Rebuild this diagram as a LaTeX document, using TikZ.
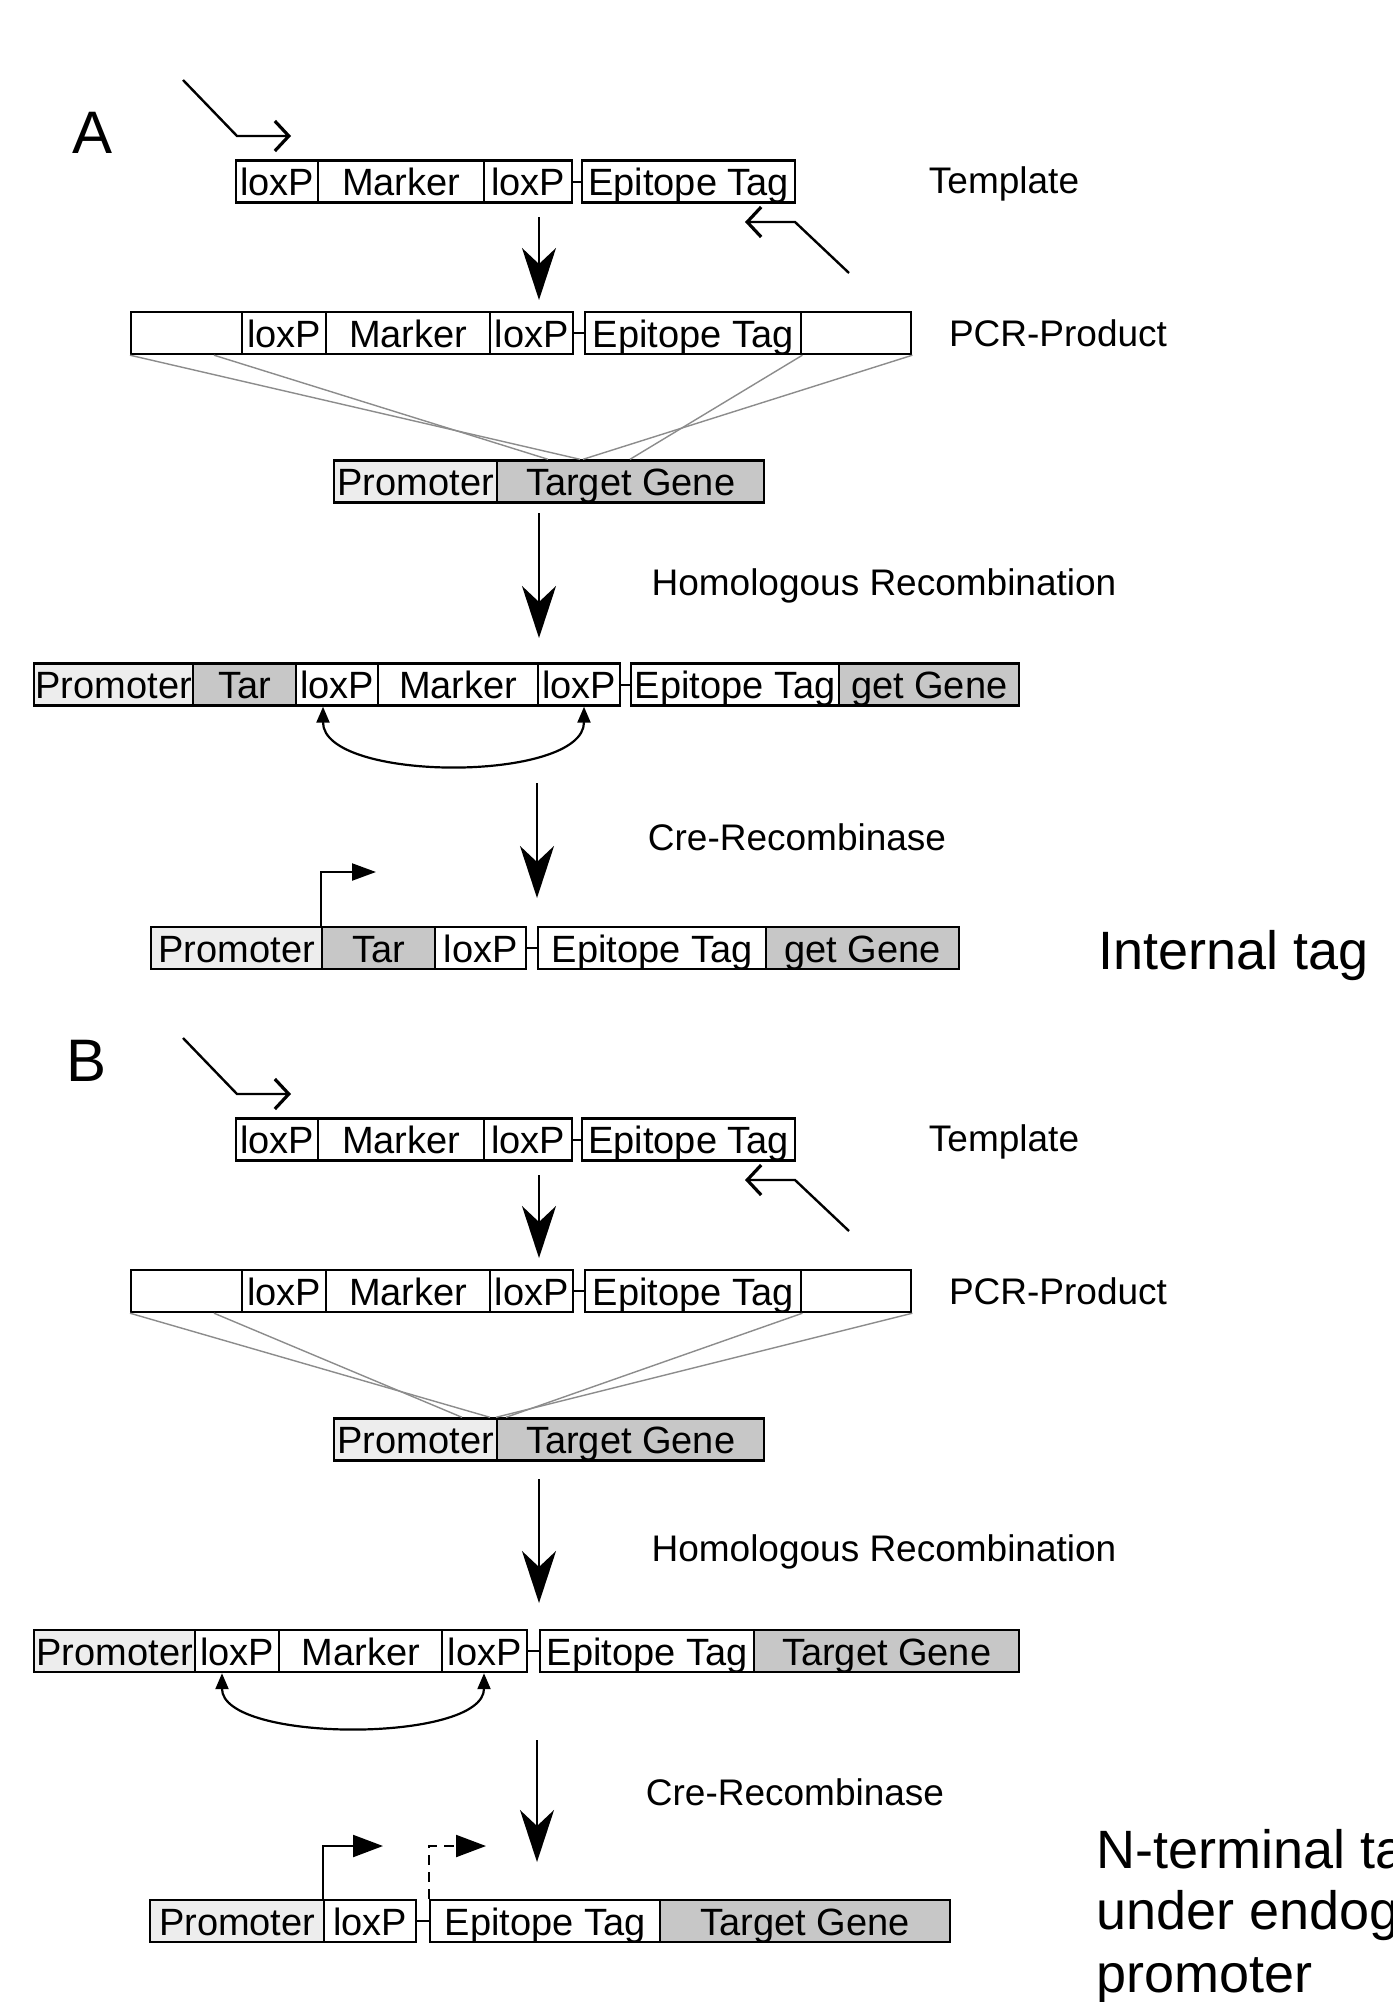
\documentclass[tikz,border=0pt]{standalone}
\usepackage{fontspec}
\setmainfont{Liberation Sans}
\usetikzlibrary{arrows.meta,calc}
\definecolor{promfill}{gray}{0.93}
\definecolor{genefill}{gray}{0.78}
\definecolor{homgray}{gray}{0.55}
\newcommand\bxfont{\fontsize{38}{44}\selectfont}
\newcommand\lbfont{\fontsize{37}{44}\selectfont}
\newcommand\bigtxtfont{\fontsize{54}{62}\selectfont}
\newcommand\letfont{\fontsize{60}{70}\selectfont}
\begin{document}
\begin{tikzpicture}[x=1pt,y=-1pt,
  seg/.style={draw=black, line width=2.4pt, inner sep=0pt, text height=28pt, text depth=0pt,
              anchor=west, font=\bxfont, fill=white, minimum height=42pt},
  prom/.style={seg, fill=promfill},
  gene/.style={seg, fill=genefill},
  link/.style={line width=2pt},
  homline/.style={draw=homgray, line width=1.4pt},
  lbl/.style={font=\lbfont, inner sep=0pt, text height=27pt, text depth=0pt},
  bigarrow/.style={line width=2.4pt, -{Stealth[length=52pt,width=34pt,inset=16pt]}},
  primer/.style={line width=2.4pt, -{Straight Barb[length=14pt,width=30pt,line width=3.2pt]}},
  loop/.style={line width=2.2pt, {Triangle[length=16pt,width=13pt]}-{Triangle[length=16pt,width=13pt]}},
  tss/.style={line width=2.2pt, -{Triangle[length=30pt,width=22pt]}},
]
\useasboundingbox (0,0) rectangle (1392,2002);
\fill[white] (0,0) rectangle (1392,2002);
\clip (0,0) rectangle (1392,2002);

% ================= Panel A =================
\node[font=\letfont, inner sep=0pt, text height=43pt, text depth=0pt] (labA) at (93,132) {A};

% Template
\node[seg,minimum width=82]  (a11) at (235,181.5) {loxP};
\node[seg,minimum width=166] (a12) at (317,181.5) {Marker};
\node[seg,minimum width=88]  (a13) at (483,181.5) {loxP};
\node[seg,minimum width=213] (a14) at (581,181.5) {Epitope Tag};
\draw[link] (a13.east) -- (a14.west);
\node[lbl] (tmplA) at (1004,180) {Template};

% primers
\coordinate (pA1s) at (183,80);
\coordinate (pA1c) at (237,136);
\coordinate (pA1e) at (291,136);
\draw[primer] (pA1s) -- (pA1c) -- (pA1e);
\coordinate (pA2s) at (849,273);
\coordinate (pA2c) at (795,222);
\coordinate (pA2e) at (745,222);
\draw[primer] (pA2s) -- (pA2c) -- (pA2e);

% arrow template -> PCR
\coordinate (dA1s) at (539,217);
\coordinate (dA1e) at (539,300);
\draw[bigarrow] (dA1s) -- (dA1e);

% PCR product
\node[seg,minimum width=111] (a21) at (130,333) {};
\node[seg,minimum width=84]  (a22) at (241,333) {loxP};
\node[seg,minimum width=164] (a23) at (325,333) {Marker};
\node[seg,minimum width=83]  (a24) at (489,333) {loxP};
\node[seg,minimum width=216] (a25) at (584,333) {Epitope Tag};
\node[seg,minimum width=110] (a26) at (800,333) {};
\draw[link] (a24.east) -- (a25.west);
\node[lbl] (pcrA) at (1058,333) {PCR-Product};

% Promoter / Target gene
\node[prom,minimum width=163] (a31) at (333,481.5) {Promoter};
\node[gene,minimum width=267] (a32) at (496,481.5) {Target Gene};

% homology lines
\draw[homline] (a21.south west) -- ([xshift=84pt]a32.north west);
\draw[homline] ([xshift=84pt]a21.south west) -- ([xshift=52pt]a32.north west);
\draw[homline] (a25.south east) -- ([xshift=134pt]a32.north west);
\draw[homline] (a26.south east) -- ([xshift=87pt]a32.north west);

% homologous recombination arrow
\coordinate (dA2s) at (539,513);
\coordinate (dA2e) at (539,638);
\draw[bigarrow] (dA2s) -- (dA2e);
\node[lbl] (homA) at (884,582) {Homologous Recombination};

% recombined locus
\node[prom,minimum width=159] (a41) at (33,684.5) {Promoter};
\node[gene,minimum width=103] (a42) at (192,684.5) {Tar};
\node[seg,minimum width=82]   (a43) at (295,684.5) {loxP};
\node[seg,minimum width=160]  (a44) at (377,684.5) {Marker};
\node[seg,minimum width=82]   (a45) at (537,684.5) {loxP};
\node[seg,minimum width=208]  (a46) at (630,684.5) {Epitope Tag};
\node[gene,minimum width=180] (a47) at (838,684.5) {get Gene};
\draw[link] (a45.east) -- (a46.west);
\draw[loop] ([xshift=28pt]a43.south west) .. controls ([xshift=28pt,yshift=-76pt]a43.south west)
      and ([xshift=47pt,yshift=-76pt]a45.south west) .. ([xshift=47pt]a45.south west);

% Cre arrow
\coordinate (dA3s) at (537,783);
\coordinate (dA3e) at (537,898);
\draw[bigarrow] (dA3s) -- (dA3e);
\node[lbl] (creA) at (797,837) {Cre-Recombinase};

% final internal tag
\node[prom,minimum width=171] (a51) at (150,948) {Promoter};
\node[gene,minimum width=113] (a52) at (321,948) {Tar};
\node[seg,minimum width=91]   (a53) at (434,948) {loxP};
\node[seg,minimum width=228]  (a54) at (537,948) {Epitope Tag};
\node[gene,minimum width=193] (a55) at (765,948) {get Gene};
\draw[link] (a53.east) -- (a54.west);
\coordinate (tsA) at (376,872);
\draw[line width=2.2pt, -{Triangle[length=24pt,width=17pt]}] (a52.north west) |- (tsA);
\node[font=\bigtxtfont, inner sep=0pt, text height=38pt, text depth=0pt, anchor=west] (intA) at (1098,950) {Internal tag};

% ================= Panel B =================
\node[font=\letfont, inner sep=0pt, text height=43pt, text depth=0pt] (labB) at (87,1060) {B};

\node[seg,minimum width=82]  (b11) at (235,1139.5) {loxP};
\node[seg,minimum width=166] (b12) at (317,1139.5) {Marker};
\node[seg,minimum width=88]  (b13) at (483,1139.5) {loxP};
\node[seg,minimum width=213] (b14) at (581,1139.5) {Epitope Tag};
\draw[link] (b13.east) -- (b14.west);
\node[lbl] (tmplB) at (1004,1138) {Template};

\coordinate (pB1s) at (183,1038);
\coordinate (pB1c) at (237,1094);
\coordinate (pB1e) at (291,1094);
\draw[primer] (pB1s) -- (pB1c) -- (pB1e);
\coordinate (pB2s) at (849,1231);
\coordinate (pB2c) at (795,1180);
\coordinate (pB2e) at (745,1180);
\draw[primer] (pB2s) -- (pB2c) -- (pB2e);

\coordinate (dB1s) at (539,1175);
\coordinate (dB1e) at (539,1258);
\draw[bigarrow] (dB1s) -- (dB1e);

\node[seg,minimum width=111] (b21) at (130,1291) {};
\node[seg,minimum width=84]  (b22) at (241,1291) {loxP};
\node[seg,minimum width=164] (b23) at (325,1291) {Marker};
\node[seg,minimum width=83]  (b24) at (489,1291) {loxP};
\node[seg,minimum width=216] (b25) at (584,1291) {Epitope Tag};
\node[seg,minimum width=110] (b26) at (800,1291) {};
\draw[link] (b24.east) -- (b25.west);
\node[lbl] (pcrB) at (1058,1291) {PCR-Product};

\node[prom,minimum width=163] (b31) at (333,1439.5) {Promoter};
\node[gene,minimum width=267] (b32) at (496,1439.5) {Target Gene};

\draw[homline] (b21.south west) -- ([xshift=-6pt]b32.north west);
\draw[homline] ([xshift=84pt]b21.south west) -- ([xshift=-34pt]b32.north west);
\draw[homline] (b25.south east) -- ([xshift=10pt]b32.north west);
\draw[homline] (b26.south east) -- ([xshift=0pt]b32.north west);

\coordinate (dB2s) at (539,1479);
\coordinate (dB2e) at (539,1603);
\draw[bigarrow] (dB2s) -- (dB2e);
\node[lbl] (homB) at (884,1548) {Homologous Recombination};

\node[prom,minimum width=161] (b41) at (33,1651) {Promoter};
\node[seg,minimum width=84]   (b42) at (194,1651) {loxP};
\node[seg,minimum width=163]  (b43) at (278,1651) {Marker};
\node[seg,minimum width=85]   (b44) at (441,1651) {loxP};
\node[seg,minimum width=214]  (b45) at (539,1651) {Epitope Tag};
\node[gene,minimum width=265] (b46) at (753,1651) {Target Gene};
\draw[link] (b44.east) -- (b45.west);
\draw[loop] ([xshift=28pt]b42.south west) .. controls ([xshift=28pt,yshift=-70pt]b42.south west)
      and ([xshift=43pt,yshift=-70pt]b44.south west) .. ([xshift=43pt]b44.south west);

\coordinate (dB3s) at (537,1740);
\coordinate (dB3e) at (537,1862);
\draw[bigarrow] (dB3s) -- (dB3e);
\node[lbl] (creB) at (795,1792) {Cre-Recombinase};

\node[prom,minimum width=174] (b51) at (149,1921) {Promoter};
\node[seg,minimum width=92]   (b52) at (323,1921) {loxP};
\node[seg,minimum width=230]  (b53) at (429,1921) {Epitope Tag};
\node[gene,minimum width=290] (b54) at (659,1921) {Target Gene};
\draw[link] (b52.east) -- (b53.west);
\coordinate (tsB1) at (383,1846);
\coordinate (tsB2) at (486,1846);
\draw[tss] (b52.north west) |- (tsB1);
\draw[tss, dash pattern=on 10pt off 7pt] (b53.north west) |- (tsB2);

\node[font=\bigtxtfont, inner sep=0pt, anchor=base west] (ntB1) at (1096,1868) {N-terminal tag};
\node[font=\bigtxtfont, inner sep=0pt, anchor=base west] (ntB2) at (1096,1929) {under endogenous};
\node[font=\bigtxtfont, inner sep=0pt, anchor=base west] (ntB3) at (1096,1992) {promoter};
\end{tikzpicture}
\end{document}
